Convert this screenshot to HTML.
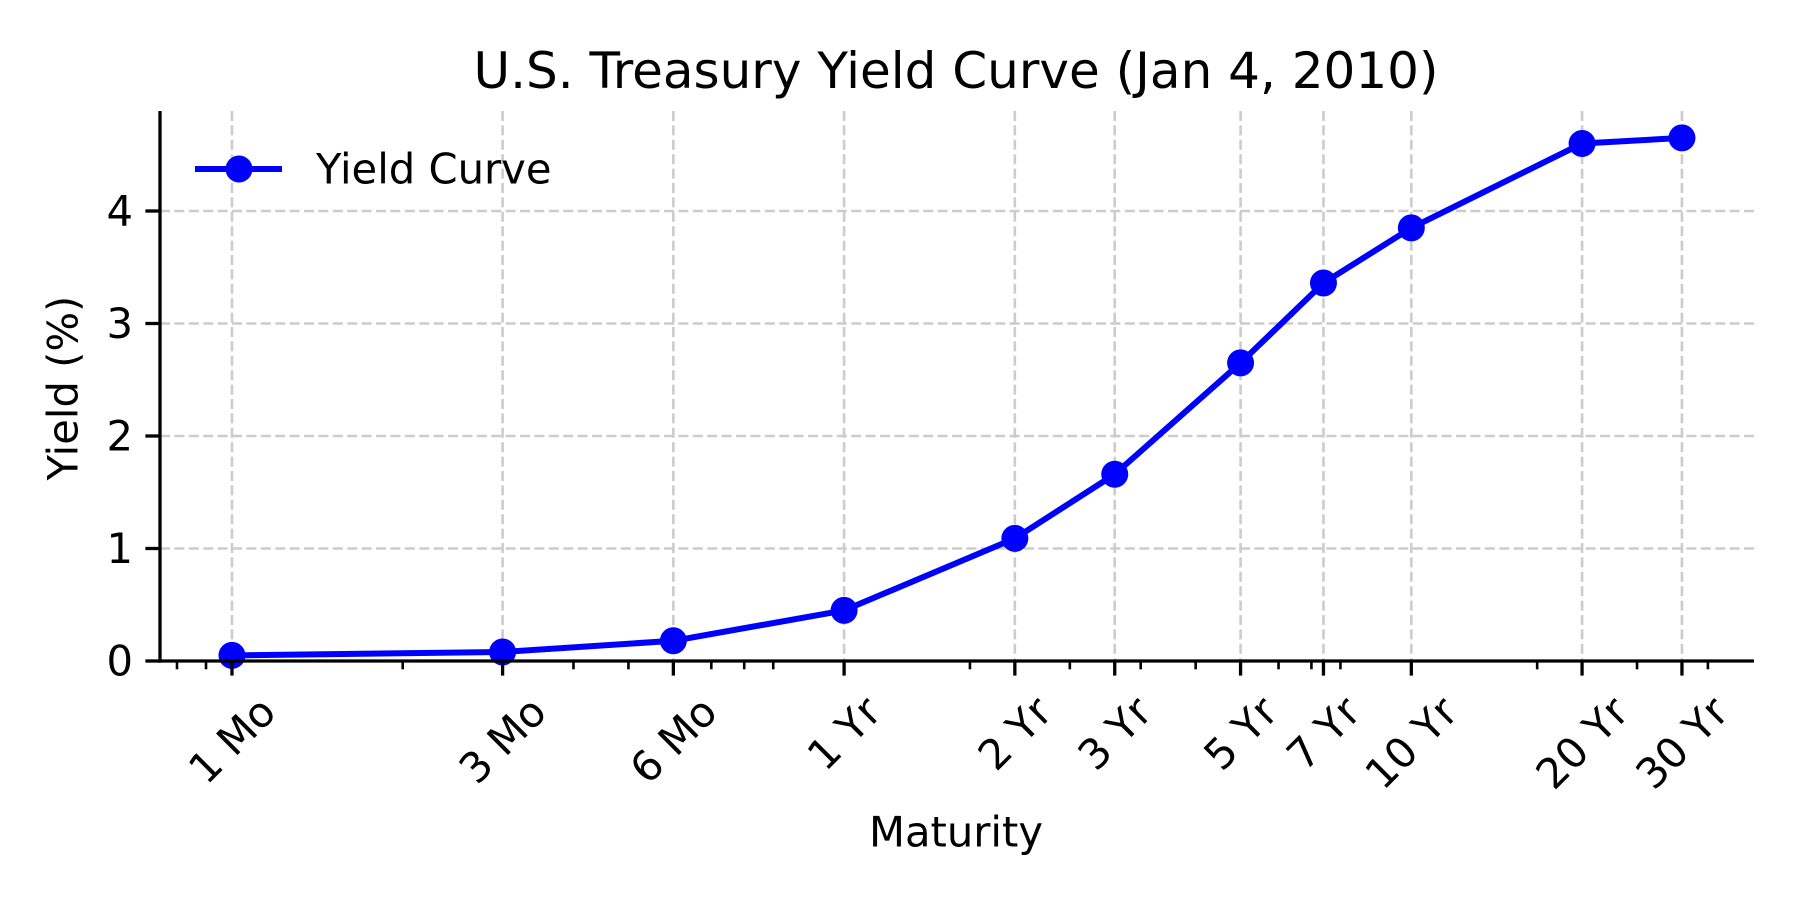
<!DOCTYPE html>
<html><head><meta charset="utf-8">
<style>
html,body{margin:0;padding:0;background:#fff;}
svg{display:block;font-family:"DejaVu Sans","Liberation Sans",sans-serif;}
</style></head>
<body>
<svg id="s" width="1800" height="900" viewBox="0 0 1800 900" xmlns="http://www.w3.org/2000/svg">
<rect width="1800" height="900" fill="#fff"/>
<g id="grid"></g>
<g id="data"></g>
<g id="axes"></g>
<text x="956" y="71" font-size="50" text-anchor="middle" dominant-baseline="central" fill="#000">U.S. Treasury Yield Curve (Jan 4, 2010)</text>
<text x="956" y="832" font-size="41.7" text-anchor="middle" dominant-baseline="central" fill="#000">Maturity</text>
<text transform="translate(63,388) rotate(-90)" font-size="41.7" text-anchor="middle" dominant-baseline="central" fill="#000">Yield (%)</text>
<line x1="195" y1="169" x2="282" y2="169" stroke="#0000ff" stroke-width="6"/>
<circle cx="239" cy="169" r="13.5" fill="#0000ff"/>
<text x="316" y="169" font-size="41.7" dominant-baseline="central" fill="#000">Yield Curve</text>
</svg>
<script>
(function(){
var NS="http://www.w3.org/2000/svg";
function el(p,t,a,txt){var e=document.createElementNS(NS,t);for(var k in a)e.setAttribute(k,a[k]);if(txt!==undefined)e.textContent=txt;p.appendChild(e);return e;}
var L=160,R=1754,T=111,Y0=661,K=112.5;
function px(m){return 844.1+170.75*Math.log2(m/12);}
function py(v){return Y0-K*v;}
var grid=document.getElementById('grid'),data=document.getElementById('data'),axes=document.getElementById('axes');
var mats=[1,3,6,12,24,36,60,84,120,240,360];
var labs=["1 Mo","3 Mo","6 Mo","1 Yr","2 Yr","3 Yr","5 Yr","7 Yr","10 Yr","20 Yr","30 Yr"];
var vals=[0.05,0.08,0.18,0.45,1.09,1.66,2.65,3.36,3.85,4.60,4.65];
var gs={stroke:"#cccccc","stroke-width":2.6,"stroke-dasharray":"10,4.4"};
for(var i=0;i<mats.length;i++){var x=px(mats[i]);var a=Object.assign({x1:x,x2:x,y1:T,y2:Y0},gs);el(grid,'line',a);}
for(var v=1;v<=4;v++){var y=py(v);el(grid,'line',Object.assign({x1:L,x2:R,y1:y,y2:y},gs));}
var pts=[];for(var i=0;i<mats.length;i++)pts.push(px(mats[i]).toFixed(1)+","+py(vals[i]).toFixed(1));
el(data,'polyline',{points:pts.join(" "),fill:"none",stroke:"#0000ff","stroke-width":6,"stroke-linejoin":"round"});
for(var i=0;i<mats.length;i++)el(data,'circle',{cx:px(mats[i]),cy:py(vals[i]),r:13.5,fill:"#0000ff"});
el(axes,'line',{x1:L,x2:L,y1:T,y2:Y0+1.6,stroke:"#000","stroke-width":3.3});
el(axes,'line',{x1:L-1.6,x2:R,y1:Y0,y2:Y0,stroke:"#000","stroke-width":3.3});
for(var v=0;v<=4;v++){var y=py(v);el(axes,'line',{x1:L-14.6,x2:L,y1:y,y2:y,stroke:"#000","stroke-width":3.3});
el(axes,'text',{x:L-27,y:y,"font-size":41.7,"text-anchor":"end","dominant-baseline":"central",fill:"#000"},String(v));}
var minors=[0.8,0.9,2,4,5,7,8,9,20,30,40,50,70,80,90,200,300,400];
for(var i=0;i<minors.length;i++){var x=px(minors[i]);if(x<L||x>R)continue;el(axes,'line',{x1:x,x2:x,y1:Y0,y2:Y0+8.3,stroke:"#000","stroke-width":2.6});}
for(var i=0;i<mats.length;i++){var x=px(mats[i]);el(axes,'line',{x1:x,x2:x,y1:Y0,y2:Y0+14.6,stroke:"#000","stroke-width":3.3});
var t=el(axes,'text',{"font-size":41.7,"text-anchor":"middle","dominant-baseline":"central",fill:"#000"},labs[i]);
var w=t.getComputedTextLength?t.getComputedTextLength():labs[i].length*24;
var h=41.7*0.95;var bh=(w+h)*0.7071;
var cy=Y0+14.6+14.6+bh/2;
t.setAttribute('transform','translate('+x.toFixed(1)+','+cy.toFixed(1)+') rotate(-45)');}
})();
</script>
</body></html>
